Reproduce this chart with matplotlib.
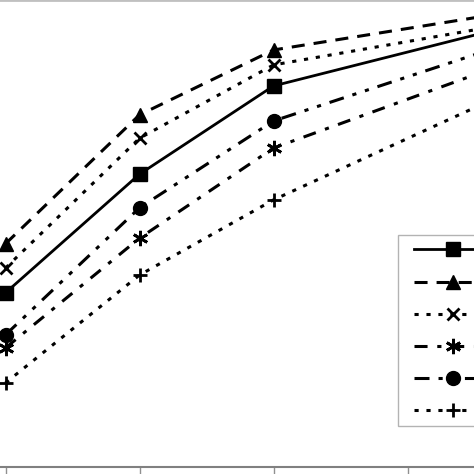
import matplotlib
matplotlib.use("Agg")
import matplotlib.pyplot as plt
from matplotlib.legend_handler import HandlerLine2D

# category positions (last one falls beyond the visible crop)
x = [0, 1, 2, 4]

# series values (arbitrary 0-100 scale)
sq = [37.3, 62.7, 81.6, 96.1]
tri = [47.8, 75.4, 89.3, 98.5]
cross = [42.6, 70.4, 86.1, 96.1]
star = [25.5, 49.0, 68.3, 89.2]
circ = [28.3, 55.5, 74.1, 93.0]
plus = [18.0, 41.1, 57.2, 83.5]
# legend labels lie outside the cropped picture
labels = [" "] * 6

plt.rcParams.update({"lines.scale_dashes": False, "font.size": 10})
fig = plt.figure(figsize=(4.74, 4.74), dpi=100)
ax = fig.add_axes([0, 7 / 474, 1, 467 / 474])

lw = 2.2
h = []
h += ax.plot(x, sq, color="k", lw=2.0, ls="-", marker="s", ms=9.5)
h += ax.plot(x, tri, color="k", lw=lw, ls=(0, (9.4, 6.5)), marker="^", ms=10)
h += ax.plot(x, cross, color="k", lw=lw, ls=(0, (3, 5.6)), marker="x", ms=9, mew=2)
h += ax.plot(x, star, color="k", lw=lw, ls=(0, (9.4, 7, 3, 7)), marker=(6, 2, 0), ms=11, mew=2)
h += ax.plot(x, circ, color="k", lw=lw, ls=(0, (10.8, 6.5, 3, 6.5, 3, 6.5)), marker="o", ms=10)
h += ax.plot(x, plus, color="k", lw=lw, ls=(0, (3, 5.6)), marker="+", ms=10, mew=2)

ax.set_xlim(-5.5 / 134, 468.5 / 134)
ax.set_ylim(0, 100)
ax.set_xticks([0, 1, 2, 3])
ax.set_xticklabels([])
ax.set_yticks([])
ax.spines["left"].set_visible(False)
ax.spines["right"].set_visible(False)
ax.spines["top"].set_color("#c0c0c0")
ax.spines["top"].set_linewidth(2)
ax.spines["bottom"].set_color("#808080")
ax.spines["bottom"].set_linewidth(1.5)
ax.tick_params(axis="x", direction="out", length=5, color="#909090", width=1)

leg = ax.legend(h, labels, loc="upper left", bbox_to_anchor=(398 / 474, 1 - 235 / 474),
                bbox_transform=fig.transFigure, borderaxespad=0, frameon=True,
                fancybox=False, edgecolor="#a0a0a0", handlelength=6.2,
                labelspacing=1.3, borderpad=0.6,
                handler_map={type(h[0]): HandlerLine2D(xpad=0.58)})
leg.get_frame().set_linewidth(1)

fig.savefig("out.png", dpi=100)
